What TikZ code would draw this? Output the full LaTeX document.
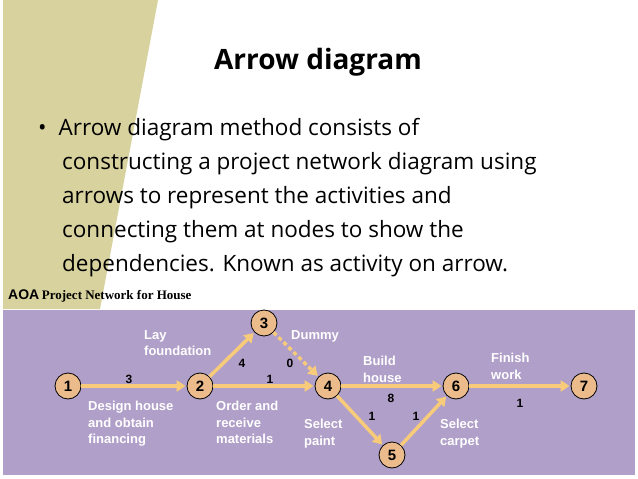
\documentclass[tikz,border=0pt]{standalone}
\usepackage{fontspec}
\setmainfont{Open Sans}
\newfontfamily\lsans{Liberation Sans}
\newfontfamily\lserif{Liberation Serif}
\begin{document}
\begin{tikzpicture}[x=1pt,y=-1pt,
  ev/.style={circle,draw=black,line width=0.8pt,fill=evfill,minimum size=26pt,inner sep=0pt,font=\lsans\bfseries\fontsize{15}{15}\selectfont},
  act/.style={draw=arrc,line width=3.5pt,-{Triangle[length=9pt,width=11pt]},shorten >=1pt},
  lab/.style={text=white,font=\lsans\bfseries\fontsize{13}{16.5}\selectfont,align=left,anchor=north west,inner sep=0pt},
  num/.style={font=\lsans\bfseries\fontsize{12}{12}\selectfont,inner sep=0pt}]
\usetikzlibrary{arrows.meta}
\definecolor{evfill}{HTML}{EBBB8B}
\definecolor{arrc}{HTML}{F7CB7A}
\definecolor{band}{HTML}{B09FC8}
\definecolor{khaki}{HTML}{D8D29E}
\useasboundingbox (0,0) rectangle (638,479);
\fill[white] (0,0) rectangle (638,479);
\fill[khaki] (3,0) -- (158,0) -- (100,309) -- (3,309) -- cycle;
\fill[band] (3,310) rectangle (635,475);
\node[font=\bfseries\fontsize{28}{28}\selectfont] (title) at (318,62) {Arrow diagram};
\node[font=\fontsize{22.5}{34}\selectfont,anchor=north west,align=left,inner sep=0pt] (body) at (38,118)
 {\textbullet\hspace{12pt}Arrow diagram method consists of\\
 \hspace*{24pt}constructing a project network diagram using\\
 \hspace*{24pt}arrows to represent the activities and\\
 \hspace*{24pt}connecting them at nodes to show the\\
 \hspace*{24pt}dependencies. Known as activity on arrow.};
\node[anchor=west,inner sep=0pt] (cap) at (8,296) {{\lsans\bfseries\fontsize{14}{14}\selectfont AOA} {\lserif\bfseries\fontsize{13}{13}\selectfont Project Network for House}};
\node[ev] (n1) at (68,386) {1};
\node[ev] (n2) at (200,386) {2};
\node[ev] (n3) at (264,323) {3};
\node[ev] (n4) at (328,386) {4};
\node[ev] (n5) at (392,455) {5};
\node[ev] (n6) at (456,386) {6};
\node[ev] (n7) at (584,386) {7};
\draw[act] (n1) -- (n2);
\draw[act] (n2) -- (n3);
\draw[act] (n2) -- (n4);
\draw[act,dash pattern=on 4pt off 3pt] (n3) -- (n4);
\draw[act] (n4) -- (n6);
\draw[act] (n4) -- (n5);
\draw[act] (n5) -- (n6);
\draw[act] (n6) -- (n7);
\node[num] (w12) at (129,379) {3};
\node[num] (w23) at (242,363) {4};
\node[num] (w34) at (290,363) {0};
\node[num] (w24) at (270,379) {1};
\node[num] (w46) at (391,398) {8};
\node[num] (w45) at (372,416) {1};
\node[num] (w56) at (416,416) {1};
\node[num] (w67) at (520,403) {1};
\node[lab] (l1) at (88,401) {Design house\\and obtain\\financing};
\node[lab] (l2) at (144,330) {Lay\\foundation};
\node[lab] (l3) at (291,330) {Dummy};
\node[lab] (l4) at (216,401) {Order and\\receive\\materials};
\node[lab] (l5) at (304,419) {Select\\paint};
\node[lab] (l6) at (363,356) {Build\\house};
\node[lab] (l7) at (440,419) {Select\\carpet};
\node[lab] (l8) at (491,353) {Finish\\work};
\end{tikzpicture}
\end{document}
